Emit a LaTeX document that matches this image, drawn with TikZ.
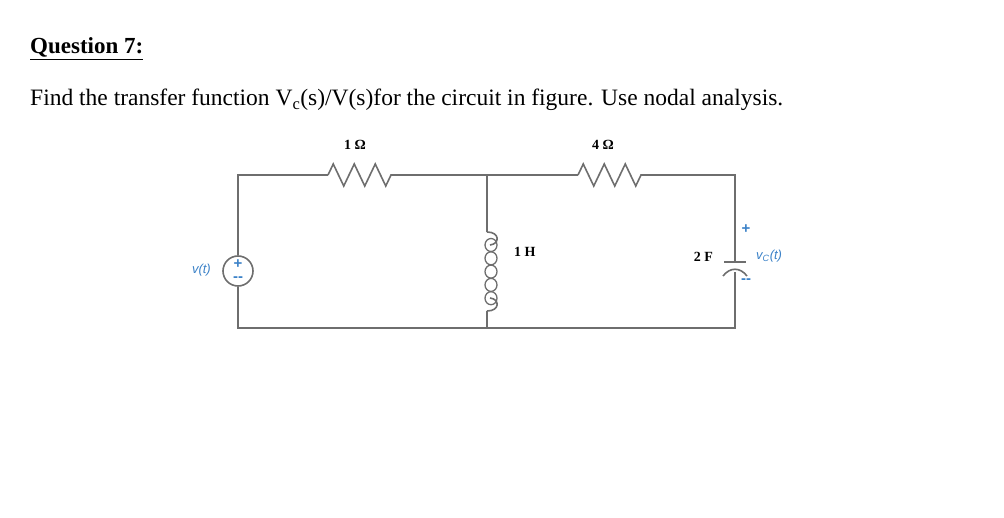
\documentclass[tikz,border=0pt]{standalone}
\usepackage{fontspec}
\setmainfont{Liberation Serif}
\newfontfamily\lsans{Liberation Sans}
\usetikzlibrary{decorations.pathmorphing}
\definecolor{lblue}{RGB}{60,130,200}
\definecolor{wire}{RGB}{110,110,110}
\begin{document}
\begin{tikzpicture}[x=1pt,y=-1pt,
  w/.style={draw=wire,line width=1.6pt},
  res/.style={w,decorate,decoration={zigzag,segment length=21pt,amplitude=11pt}},
  lbl/.style={font=\bfseries\fontsize{14}{14}\selectfont,inner sep=0pt},
  bl/.style={text=lblue,font=\lsans\itshape\fontsize{13}{13}\selectfont,inner sep=0pt},
  sg/.style={text=lblue,font=\lsans\bfseries\fontsize{15}{15}\selectfont,inner sep=0pt}]
\useasboundingbox (0,0) rectangle (1004,518);
\node[anchor=base west,inner sep=0pt,font=\bfseries\fontsize{23}{23}\selectfont] (q) at (30,54) {\underline{Question 7:}};
\node[anchor=base west,inner sep=0pt,font=\fontsize{23.5}{23.5}\selectfont] (t) at (30,106) {Find the transfer function V\textsubscript{c}(s)/V(s)for the circuit in figure. Use nodal analysis.};
\coordinate (tl) at (238,175); \coordinate (tm) at (487,175); \coordinate (tr) at (735,175);
\coordinate (bl0) at (238,328); \coordinate (bm) at (487,328); \coordinate (br) at (735,328);
\coordinate (r1a) at (328,175); \coordinate (r1b) at (398,175);
\coordinate (r2a) at (578,175); \coordinate (r2b) at (648,175);
\node[circle,draw=wire,line width=1.6pt,minimum size=30pt,inner sep=0pt] (src) at (238,271) {};
\node[sg] (sp) at (238,264) {+};
\node[sg] (sm) at (238,279) {--};
\draw[w] (src.north) -- (tl) -- (r1a);
\draw[res] (r1a) -- (r1b);
\draw[w] (r1b) -- (tm) -- (r2a);
\draw[res] (r2a) -- (r2b);
\draw[w] (r2b) -- (tr) -- (735,262);
\draw[w] (src.south) -- (bl0) -- (br) -- (735,272);
\coordinate (la) at (487,232); \coordinate (lb) at (487,311);
\draw[w] (tm) -- (la);
\draw[w] (la) .. controls (500,232) and (500,244) .. (490,245);
\draw[w] (lb) .. controls (500,311) and (500,299) .. (490,298);
\draw[w] (lb) -- (bm);
\foreach \i in {0,...,4} {\draw[draw=wire,line width=1.3pt] (491,{245+\i*13.3}) ellipse (6pt and 6.5pt);}
% capacitor
\draw[w] (724,262) -- (746,262);
\draw[w] (723,276) .. controls (730,267) and (740,267) .. (747,276);
\node[lbl] (l1) at (355,145) {1 Ω};
\node[lbl] (l4) at (603,145) {4 Ω};
\node[lbl,anchor=west] (lH) at (514,252) {1 H};
\node[lbl,anchor=east] (lF) at (713,257) {2 F};
\node[bl,anchor=east] (vt) at (211,270) {v(t)};
\node[sg] (cp) at (746,229) {+};
\node[sg] (cm) at (746,281) {--};
\node[bl,anchor=west] (vc) at (756,256) {v\textsubscript{C}(t)};
\end{tikzpicture}
\end{document}
